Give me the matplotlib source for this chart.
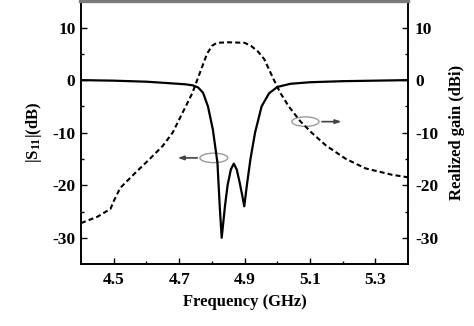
import numpy as np
import matplotlib as mpl
mpl.use('Agg')
import matplotlib.pyplot as plt
from matplotlib.patches import Ellipse

plt.rcParams['font.family'] = 'Liberation Serif'
plt.rcParams['font.weight'] = 'bold'
plt.rcParams['mathtext.fontset'] = 'custom'
plt.rcParams['mathtext.rm'] = 'Liberation Serif:bold'
plt.rcParams['mathtext.it'] = 'Liberation Serif:bold'
plt.rcParams['axes.unicode_minus'] = False

# |S11| (solid), left axis
s11_freq = [4.40, 4.50, 4.60, 4.65, 4.72, 4.742, 4.758, 4.773, 4.788, 4.803, 4.817,
            4.824, 4.830, 4.835, 4.840, 4.848, 4.858, 4.867, 4.876, 4.885, 4.893,
            4.899, 4.907, 4.918, 4.932, 4.952, 4.975, 5.00, 5.04, 5.10, 5.20, 5.40]
s11_db = [0.0, -0.1, -0.3, -0.5, -0.8, -1.0, -1.4, -2.4, -5.0, -9.4, -15.7,
          -24.0, -30.0, -27.0, -24.0, -20.0, -17.0, -15.9, -17.0, -19.5, -22.0,
          -24.0, -20.0, -15.0, -10.0, -5.0, -2.5, -1.3, -0.7, -0.4, -0.2, 0.0]

# realized gain (dashed), right axis
gain_freq = [4.40, 4.45, 4.49, 4.50, 4.52, 4.56, 4.61, 4.65, 4.68, 4.70, 4.72,
             4.74, 4.755, 4.77, 4.785, 4.80, 4.815, 4.85, 4.90, 4.92, 4.94,
             4.96, 4.975, 4.99, 5.01, 5.035, 5.07, 5.105, 5.15, 5.21, 5.27,
             5.35, 5.40]
gain_dbi = [-27.2, -26.0, -24.5, -23.0, -20.5, -18.0, -15.0, -12.5, -10.0, -7.5,
            -5.0, -2.5, 0.0, 2.5, 5.0, 6.5, 7.1, 7.2, 7.1, 6.5, 5.5, 4.0, 2.0,
            0.0, -2.5, -5.0, -7.8, -10.0, -12.5, -15.0, -16.8, -18.0, -18.5]

xticks = [4.5, 4.7, 4.9, 5.1, 5.3]
yticks = [-30, -20, -10, 0, 10]

fig = plt.figure(figsize=(4.74, 3.26), dpi=100)
ax = fig.add_axes([0.171, 0.19, 0.690, 0.806])
ax2 = ax.twinx()

ax.plot(s11_freq, s11_db, color='black', lw=1.6)
ax2.plot(gain_freq, gain_dbi, color='black', lw=1.5, linestyle=(0, (2.4, 1.5)))

for a in (ax, ax2):
    a.set_xlim(4.4, 5.4)
    a.set_ylim(-35, 15)
    a.set_yticks(yticks)
    a.set_yticks([-25, -15, -5, 5], minor=True)
    a.tick_params(which='both', direction='in', labelsize=12.5, width=1)
    a.tick_params(which='major', length=4)
    a.tick_params(which='minor', length=2.5)
    for s in a.spines.values():
        s.set_linewidth(1.2)
    a.spines['top'].set_color('#7a7a7a')
    a.spines['top'].set_linewidth(3)

ax.set_xticks(xticks)
ax.set_xticks([4.6, 4.8, 5.0, 5.2], minor=True)
ax.set_xticklabels([f'{t:.1f}' for t in xticks])
ax.tick_params(axis='x', which='both', top=False, pad=6)
ax.tick_params(axis='y', pad=4)
ax2.tick_params(axis='y', pad=5)

ax.set_xlabel('Frequency (GHz)', fontsize=12, fontweight='bold', labelpad=4)
ax.set_ylabel('|S$_{11}$|(dB)', fontsize=12, fontweight='bold', labelpad=6)
ax2.set_ylabel('Realized gain (dBi)', fontsize=12, fontweight='bold', labelpad=8)

# ellipse + arrow markers pointing to the relevant axis
ax.add_patch(Ellipse((4.806, -14.8), 0.085, 1.8, fill=False, ec='#9a9a9a', lw=1))
ax.annotate('', xy=(4.687, -14.8), xytext=(4.764, -14.8),
            arrowprops=dict(arrowstyle='-|>,head_length=0.35,head_width=0.12',
                            color='#444444', lw=1.2))
ax.add_patch(Ellipse((5.086, -7.9), 0.083, 1.8, fill=False, ec='#9a9a9a', lw=1))
ax.annotate('', xy=(5.205, -7.9), xytext=(5.128, -7.9),
            arrowprops=dict(arrowstyle='-|>,head_length=0.35,head_width=0.12',
                            color='#444444', lw=1.2))

fig.savefig('out.png', dpi=100)
